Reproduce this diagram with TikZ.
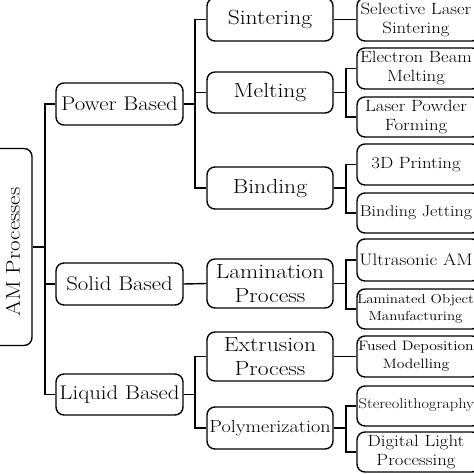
\documentclass[tikz,border=0pt]{standalone}
\usepackage{fontspec}
\setmainfont{Latin Modern Roman}[FakeStretch=1.15]
\newcommand{\lsh}{\hspace*{5pt}}
\begin{document}
\begin{tikzpicture}[x=1pt,y=-1pt,
  box/.style={draw,line width=1.4pt,rounded corners=8pt,align=center,inner sep=0pt},
  lone/.style={box,minimum width=127pt,font=\fontsize{19.8}{24}\selectfont},
  ltwo/.style={box,minimum width=126pt,font=\fontsize{20.5}{24}\selectfont},
  lthree/.style={box,minimum width=123pt,font=\fontsize{16.3}{19}\selectfont},
  link/.style={line width=1.4pt}]
\useasboundingbox (0,0) rectangle (474,474);
\begin{scope}
\clip (0,0) rectangle (474,474);
% root
\node[box,minimum width=42pt,minimum height=197pt] (root) at (11,247) {};
\node[rotate=90,font=\fontsize{20}{24}\selectfont] (roottxt) at (13,252) {AM Processes};
% level 1
\node[lone,minimum height=42pt] (pb) at (119.5,104) {Power Based};
\node[lone,minimum height=42pt] (sb) at (119.5,284) {Solid Based};
\node[lone,minimum height=41pt] (lb) at (119.5,394.5) {Liquid Based};
% level 2
\node[ltwo,minimum height=43pt] (sin) at (270,19.5) {Sintering};
\node[ltwo,minimum height=41pt] (mel) at (270,92.5) {Melting};
\node[ltwo,minimum height=42pt] (bin) at (270,188) {Binding};
\node[ltwo,minimum height=49pt] (lam) at (270,283.5) {Lamination\\Process};
\node[ltwo,minimum height=49pt] (ext) at (270,356.5) {Extrusion\\Process};
\node[ltwo,minimum height=42pt,font=\fontsize{17.5}{22}\selectfont] (pol) at (270,428) {Polymerization};
% level 3
\node[lthree,minimum height=43pt] (sls) at (418.5,19.5) {Selective Laser\lsh\\Sintering\lsh};
\node[lthree,minimum height=41pt] (ebm) at (418.5,68.5) {Electron Beam\lsh\\Melting\lsh};
\node[lthree,minimum height=40pt] (lpf) at (418.5,117) {Laser Powder\lsh\\Forming\lsh};
\node[lthree,minimum height=41pt,font=\fontsize{16.3}{19}\selectfont] (tdp) at (418.5,164.5) {3D Printing\lsh};
\node[lthree,minimum height=40pt,font=\fontsize{15.6}{19}\selectfont] (bj) at (418.5,213) {Binding Jetting\lsh};
\node[lthree,minimum height=42pt,font=\fontsize{16.6}{19}\selectfont] (uam) at (418.5,260) {Ultrasonic AM\lsh};
\node[lthree,minimum height=40pt,font=\fontsize{13}{17.5}\selectfont] (lom) at (418.5,309) {Laminated Object\hspace*{6pt}\\Manufacturing\hspace*{6pt}};
\node[lthree,minimum height=41pt,font=\fontsize{13.6}{18}\selectfont] (fdm) at (418.5,356.5) {Fused Deposition\lsh\\Modelling\lsh};
\node[lthree,minimum height=40pt] (sla) at (418.5,406) {\phantom{x}};
\node[font=\fontsize{14.2}{18}\selectfont,anchor=west,inner sep=0pt] (slat) at (358.5,405) {Stereolithography};
\node[lthree,minimum height=40pt,font=\fontsize{16.3}{19}\selectfont] (dlp) at (418.5,452) {Digital Light\lsh\\Processing\lsh};
% junction columns
\coordinate (j1) at (45,0);
\coordinate (j2) at (195,0);
\coordinate (j3) at (346,0);
% root to level 1
\draw[link] (root.east) -- (root.east -| j1);
\draw[link] (pb.west) -- (pb.west -| j1) -- (lb.west -| j1) -- (lb.west);
\draw[link] (sb.west) -- (sb.west -| j1);
% power based
\draw[link] (pb.east) -- (pb.east -| j2);
\draw[link] (sin.west) -- (sin.west -| j2) -- (bin.west -| j2) -- (bin.west);
\draw[link] (mel.west) -- (mel.west -| j2);
% solid based
\draw[link] (sb.east) -- (lam.west);
% liquid based
\draw[link] (lb.east) -- (lb.east -| j2);
\draw[link] (ext.west) -- (ext.west -| j2) -- (pol.west -| j2) -- (pol.west);
% level 2 to level 3
\draw[link] (sin.east) -- (sls.west);
\draw[link] (mel.east) -- (mel.east -| j3);
\draw[link] (ebm.west) -- (ebm.west -| j3) -- (lpf.west -| j3) -- (lpf.west);
\draw[link] (bin.east) -- (bin.east -| j3);
\draw[link] (tdp.west) -- (tdp.west -| j3) -- (bj.west -| j3) -- (bj.west);
\draw[link] (lam.east) -- (lam.east -| j3);
\draw[link] (uam.west) -- (uam.west -| j3) -- (lom.west -| j3) -- (lom.west);
\draw[link] (ext.east) -- (fdm.west);
\draw[link] (pol.east) -- (pol.east -| j3);
\draw[link] (sla.west) -- (sla.west -| j3) -- (dlp.west -| j3) -- (dlp.west);
\end{scope}
\end{tikzpicture}
\end{document}
